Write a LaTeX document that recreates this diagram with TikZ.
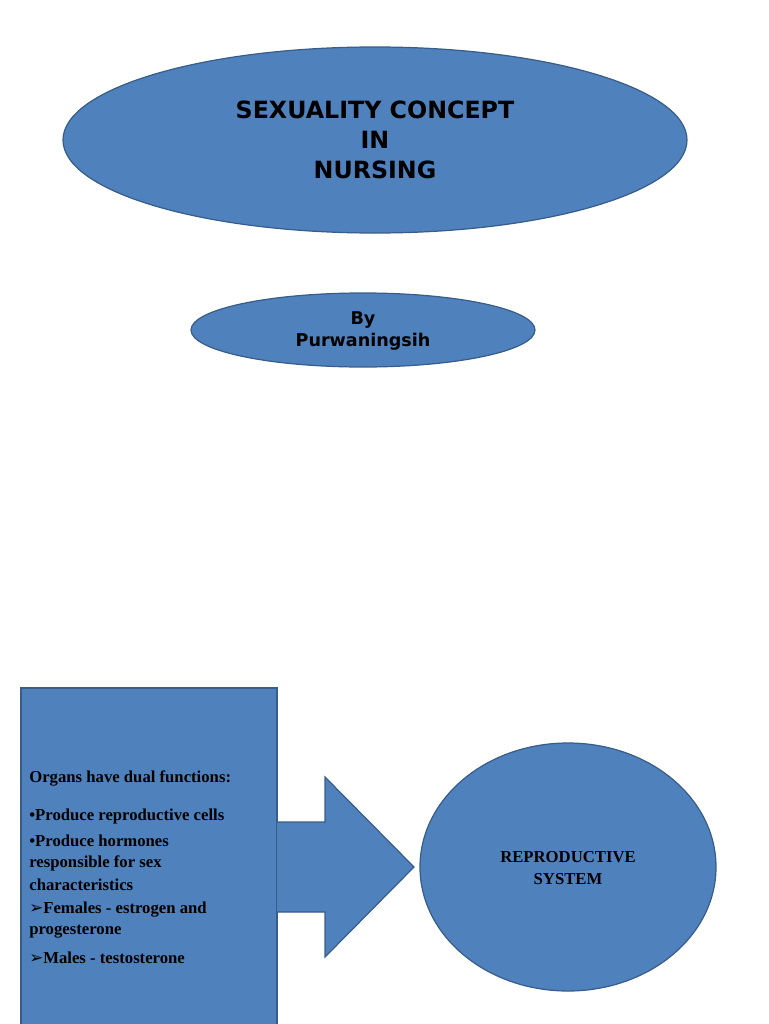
\documentclass[tikz,border=0pt]{standalone}
\usepackage{fontspec}
\setmainfont{Liberation Serif}
\newfontfamily\headfont{DejaVu Sans}
\newfontfamily\symfont{DejaVu Sans}
\definecolor{boxblue}{HTML}{4F81BD}
\definecolor{edgeblue}{HTML}{385D8A}
\begin{document}
\begin{tikzpicture}[
			x = 0.02cm, y = -0.02cm,
			blob/.style = {draw = edgeblue, fill = boxblue, line width = 0.7pt}
			]

			\useasboundingbox (0,0) rectangle (768,1024);

			\draw[blob] (375,140) ellipse [x radius = 312, y radius = 93];
			\node[align = center, font = \headfont\bfseries\fontsize{13.5}{17}\selectfont] (title) at (375,140) {SEXUALITY CONCEPT\\IN\\NURSING};

			\draw[blob] (363,330) ellipse [x radius = 172, y radius = 37];
			\node[align = center, font = \headfont\bfseries\fontsize{10}{12.5}\selectfont] (by) at (363,331) {By\\Purwaningsih};

			\draw[blob] (21,1030) -- (21,688) -- (277,688) -- (277,1030);

			\draw[blob] (277,822) -- (325,822) -- (325,777) -- (414,867) -- (325,957) -- (325,912) -- (277,912);

			\draw[blob] (568,867) ellipse [x radius = 148, y radius = 124];
			\node[align = center, font = \bfseries\fontsize{9.5}{13}\selectfont] (repro) at (568,868) {REPRODUCTIVE\\SYSTEM};

			\begin{scope}[every node/.style = {anchor = west, font = \bfseries\fontsize{9.5}{12}\selectfont, inner sep = 0pt}]
			\node (l1) at (29,778) {Organs have dual functions:};
			\node (l2) at (29,816) {•Produce reproductive cells};
			\node (l3) at (29,841) {•Produce hormones};
			\node (l4) at (29,863) {responsible for sex};
			\node (l5) at (29,885) {characteristics};
			\node (l6) at (29,910) {{\symfont ➢}Females - estrogen and};
			\node (l7) at (29,932) {progesterone};
			\node (l8) at (29,958) {{\symfont ➢}Males - testosterone};
			\end{scope}

		\end{tikzpicture}
\end{document}
